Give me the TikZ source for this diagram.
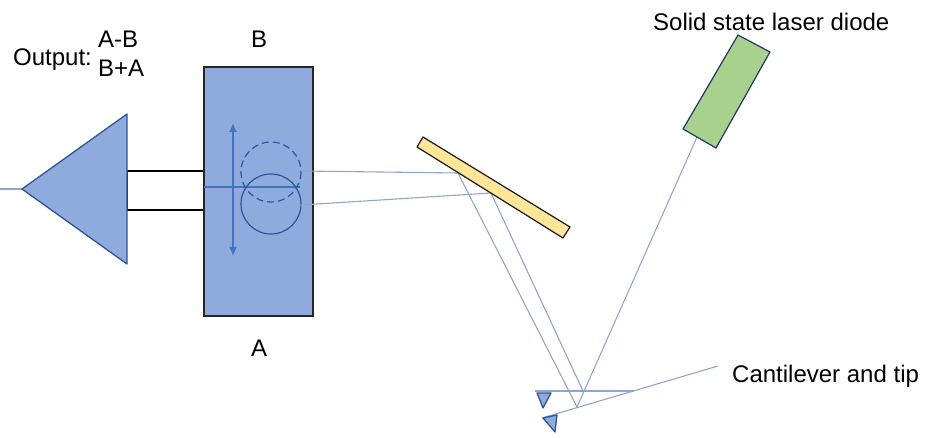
\documentclass[tikz,border=0pt]{standalone}
\usepackage{fontspec}
\setmainfont{Liberation Sans}
\usetikzlibrary{arrows.meta}
\definecolor{fillblue}{HTML}{8FAADC}
\definecolor{edgeblue}{HTML}{2F5597}
\definecolor{arrowblue}{HTML}{4472C4}
\definecolor{beam}{HTML}{8FA5CC}
\definecolor{mirrorfill}{HTML}{FFE699}
\definecolor{laserfill}{HTML}{A9D18E}
\definecolor{laseredge}{HTML}{203864}
\tikzset{
  beamline/.style={draw=beam,line width=1.1pt},
  bluepart/.style={fill=fillblue,draw=edgeblue,line width=1.3pt,line join=round},
  label/.style={font=\fontsize{24}{26}\selectfont,text=black,inner sep=0pt,anchor=base west},
  axisarrow/.style={draw=arrowblue,line width=1.8pt,{Latex[length=9pt,width=8pt]}-{Latex[length=9pt,width=8pt]}},
  ring/.style={draw=edgeblue,line width=1.2pt},
}
\begin{document}
\begin{tikzpicture}[x=1pt,y=-1pt]
\useasboundingbox (0,0) rectangle (929,438);
% named points
\coordinate (in) at (0,189);
\coordinate (apex) at (22,189);
\coordinate (b1) at (301,171);
\coordinate (b2) at (301,205);
\coordinate (m1) at (458,173);
\coordinate (m2) at (491,193);
\coordinate (p1) at (577,407);
\coordinate (p2) at (583,391);
\coordinate (ls) at (697,137);
\coordinate (h1) at (535,391);
\coordinate (h2) at (634,391);
\coordinate (c1) at (542,418);
\coordinate (c2) at (718,366);
% amplifier connection
\draw[beamline] (in) -- (apex);
\draw[black,line width=1.2pt,fill=white] (127,171) rectangle (204,210);
\draw[bluepart] (22,189) -- (127,114) -- (127,264) -- cycle;
% detector
\draw[fill=fillblue,draw=black!85,line width=1.2pt] (204,67) rectangle (313,316);
\draw[axisarrow] (233,123) -- (233,256);
\draw[draw=arrowblue,line width=1.8pt] (204,187) -- (300,187);
\draw[ring,dashed,dash pattern=on 7pt off 4pt] (271,172) circle (30);
\draw[ring] (271,204) circle (30);
% beams
\draw[beamline] (b1) -- (m1) -- (p1);
\draw[beamline] (b2) -- (m2) -- (p2);
\draw[beamline] (ls) -- (p1);
\draw[beamline] (h1) -- (h2);
\draw[beamline] (c1) -- (c2);
% mirror and laser
\draw[fill=mirrorfill,draw=black!90,line width=1.2pt,line join=round] (423,137) -- (417,147) -- (563,238) -- (570,227) -- cycle;
\draw[fill=laserfill,draw=laseredge,line width=1.2pt,line join=round] (738,35) -- (770,52) -- (716,148) -- (683,129) -- cycle;
% tips
\draw[bluepart] (537,393) -- (551,393) -- (543,408) -- cycle;
\draw[bluepart] (543,418) -- (557,415) -- (555,432) -- cycle;
% labels
\node[label] (t1) at (13,66) {Output:};
\node[label] (t2) at (98,48) {A-B};
\node[label] (t3) at (98,77) {B+A};
\node[label] (t4) at (251,48) {B};
\node[label] (t5) at (251,356) {A};
\node[label] (t6) at (732,382) {Cantilever and tip};
\node[label] (t7) at (653,31) {Solid state laser diode};
\end{tikzpicture}
\end{document}
